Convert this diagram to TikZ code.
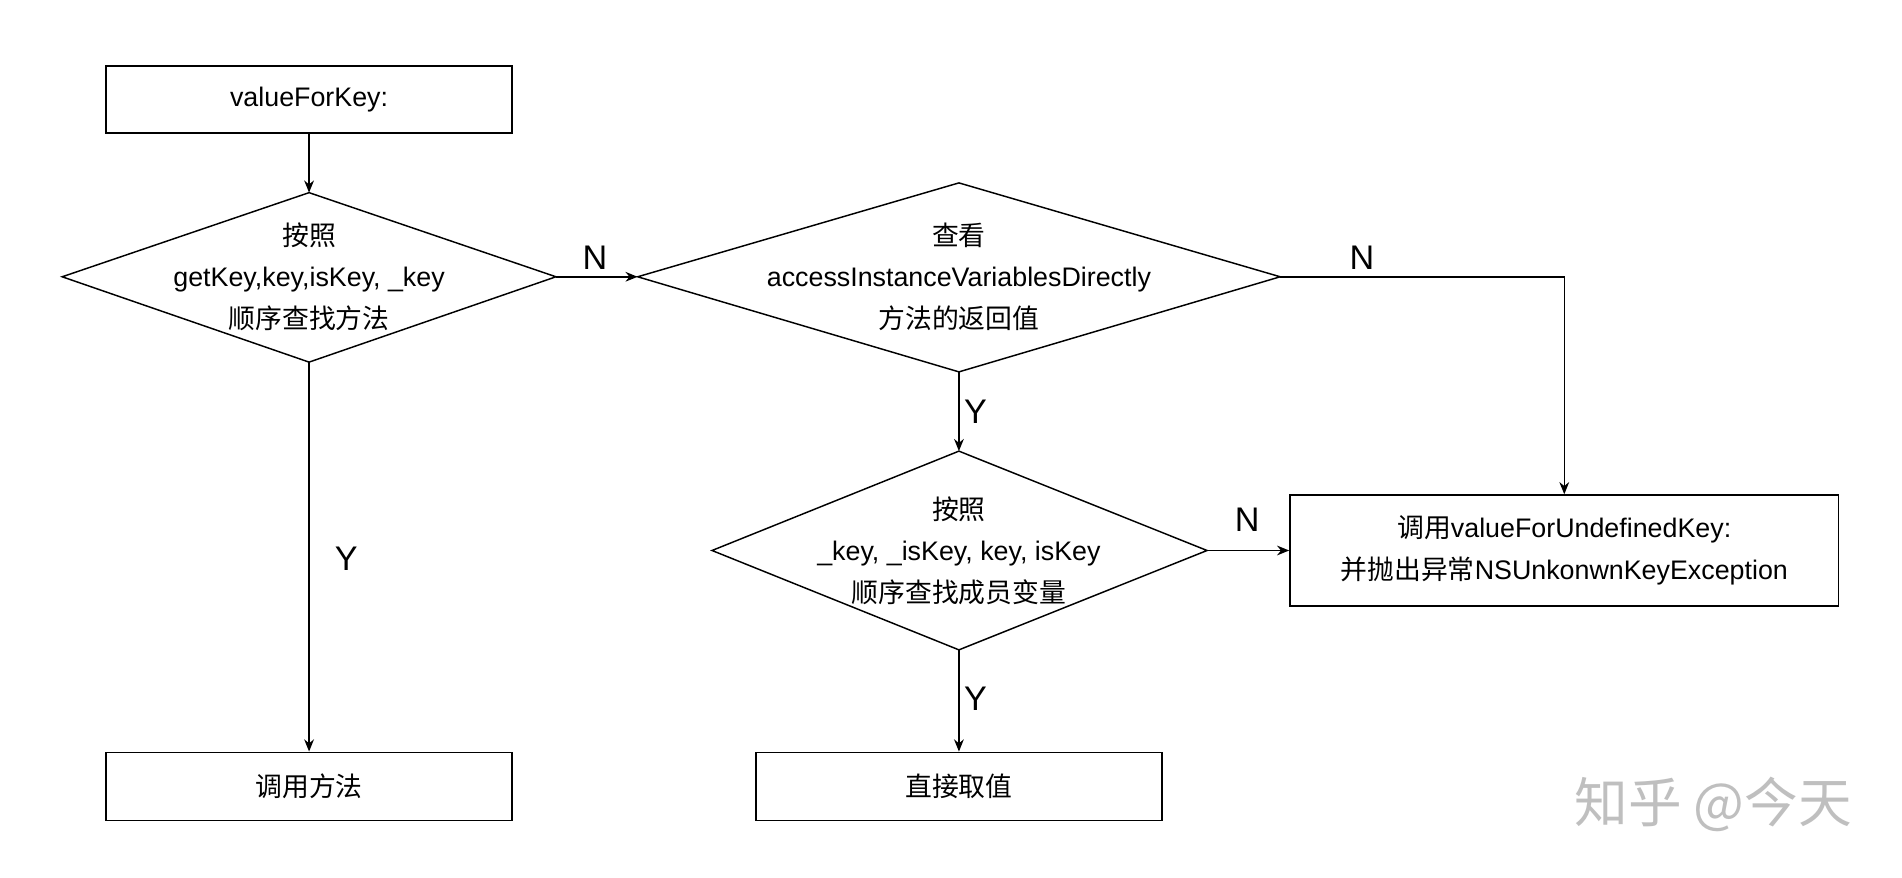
\documentclass[tikz,border=0pt]{standalone}
\usepackage{fontspec}
\setmainfont{Liberation Sans}
\newfontfamily\cjk{Noto Sans CJK SC}
\usetikzlibrary{arrows.meta}
\begin{document}
\begin{tikzpicture}[x=0.5pt,y=-0.5pt,
  every node/.style={font=\fontsize{11}{17}\selectfont, align=center},
  box/.style={draw, line width=0.6pt, inner sep=0pt},
  dline/.style={draw, line width=0.6pt},
  arr/.style={-{Stealth[length=5pt,width=4pt]}, line width=0.6pt},
  lab/.style={font=\fontsize{14}{16}\selectfont}]
\useasboundingbox[fill=white] (0,0) rectangle (1560,720);
\node[box, minimum width=333pt/2, minimum height=55pt/2] (start) at (253.5,81.5) {valueForKey:};
% diamond 1
\coordinate (d1n) at (253.5,158); \coordinate (d1s) at (253.5,297);
\coordinate (d1w) at (51,227); \coordinate (d1e) at (456,227);
\draw[dline] (d1n) -- (d1e) -- (d1s) -- (d1w) -- cycle;
\node (d1) at (253.5,227) {{\cjk 按照}\\getKey,key,isKey, \_key\\{\cjk 顺序查找方法}};
% diamond 2
\coordinate (d2n) at (786.5,150); \coordinate (d2s) at (786.5,305);
\coordinate (d2w) at (523,227); \coordinate (d2e) at (1050,227);
\draw[dline] (d2n) -- (d2e) -- (d2s) -- (d2w) -- cycle;
\node (d2) at (786.5,227) {{\cjk 查看}\\accessInstanceVariablesDirectly\\{\cjk 方法的返回值}};
% diamond 3
\coordinate (d3n) at (786.5,370); \coordinate (d3s) at (786.5,533);
\coordinate (d3w) at (584,451.5); \coordinate (d3e) at (990,451.5);
\draw[dline] (d3n) -- (d3e) -- (d3s) -- (d3w) -- cycle;
\node (d3) at (786.5,451.5) {{\cjk 按照}\\\_key, \_isKey, key, isKey\\{\cjk 顺序查找成员变量}};
\node[box, minimum width=450pt/2, minimum height=91pt/2] (undef) at (1283,451.5) {{\cjk 调用}valueForUndefinedKey:\\{\cjk 并抛出异常}NSUnkonwnKeyException};
\node[box, minimum width=333pt/2, minimum height=56pt/2] (call) at (253.5,645) {\cjk 调用方法};
\node[box, minimum width=333pt/2, minimum height=56pt/2] (get) at (786.5,645) {\cjk 直接取值};
\coordinate (c1) at (1283,227);
\draw[arr] (start) -- (d1n);
\draw[arr] (d1e) -- (d2w);
\draw[arr] (d1s) -- (call);
\draw[arr] (d2e) -- (c1) -- (undef.north);
\draw[arr] (d2s) -- (d3n);
\draw[arr] (d3e) -- (undef.west);
\draw[arr] (d3s) -- (get);
\node[lab] at (488,211) {N};
\node[lab] at (1117,211) {N};
\node[lab] at (800,338) {Y};
\node[lab] at (284,458) {Y};
\node[lab] at (1023,426) {N};
\node[lab] at (800,573) {Y};
\node[font=\fontsize{22}{24}\selectfont\cjk, text=black!25] (wm) at (1405,660) {知乎 @今天};
\end{tikzpicture}
\end{document}
